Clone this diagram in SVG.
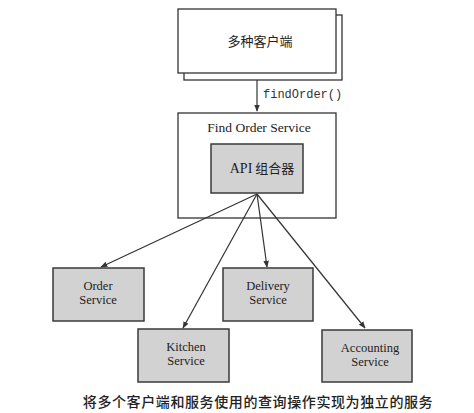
<svg xmlns="http://www.w3.org/2000/svg" width="474" height="413" viewBox="0 0 474 413">
<defs>
<style>
.box{fill:#fff;stroke:#333;stroke-width:1.3}
.svc{fill:#d2d2d2;stroke:#3a3a3a;stroke-width:1.5}
.en{font-family:"Liberation Serif","Times New Roman",serif;font-size:12.5px;fill:#222;text-anchor:middle}
.cn{font-family:"Noto Sans CJK SC",sans-serif;font-size:13px;fill:#222;text-anchor:middle}
.mono{font-family:"Liberation Mono","Courier New",monospace;font-size:12px;fill:#333}
.edge{stroke:#333;stroke-width:1.2;fill:none;marker-end:url(#ah)}
</style>
<marker id="ah" viewBox="0 0 10 10" refX="9" refY="5" markerWidth="7" markerHeight="7" orient="auto-start-reverse" markerUnits="userSpaceOnUse">
<path d="M0,1 L10,5 L0,9 z" fill="#333"/>
</marker>
</defs>
<rect width="474" height="413" fill="#fff"/>
<g id="clients">
<rect class="box" x="184" y="15" width="158" height="65"/>
<rect class="box" x="178" y="9" width="158" height="64"/>
<text class="cn" x="260" y="46">多种客户端</text>
</g>
<g id="findOrderService">
<rect class="box" x="178" y="113" width="158" height="105"/>
<text class="en" x="259" y="132" style="font-size:13.5px">Find Order Service</text>
</g>
<g id="apiComposer">
<rect class="svc" x="211" y="144" width="92" height="49"/>
<text class="cn" x="262" y="173"><tspan style="font-family:'Liberation Serif',serif;font-size:14px">API</tspan> 组合器</text>
</g>
<g id="orderService">
<rect class="svc" x="53" y="268" width="91" height="53"/>
<text class="en" x="98" y="290">Order</text>
<text class="en" x="98" y="304">Service</text>
</g>
<g id="deliveryService">
<rect class="svc" x="223" y="268" width="90" height="53"/>
<text class="en" x="268" y="290">Delivery</text>
<text class="en" x="268" y="304">Service</text>
</g>
<g id="kitchenService">
<rect class="svc" x="138" y="329" width="91" height="53"/>
<text class="en" x="186" y="351">Kitchen</text>
<text class="en" x="186" y="365">Service</text>
</g>
<g id="accountingService">
<rect class="svc" x="322" y="330" width="90" height="52"/>
<text class="en" x="370" y="352">Accounting</text>
<text class="en" x="370" y="366">Service</text>
</g>
<g id="connectors">
<line class="edge" x1="257" y1="80" x2="257" y2="111"/>
<text class="mono" x="263" y="98">findOrder()</text>
<line class="edge" x1="257" y1="194" x2="101" y2="267"/>
<line class="edge" x1="257" y1="194" x2="183" y2="328"/>
<line class="edge" x1="257" y1="194" x2="267" y2="267"/>
<line class="edge" x1="257" y1="194" x2="365" y2="328"/>
</g>
<text class="cn" x="258" y="407" style="font-size:14px;letter-spacing:0.6px;font-weight:500">将多个客户端和服务使用的查询操作实现为独立的服务</text>
</svg>
